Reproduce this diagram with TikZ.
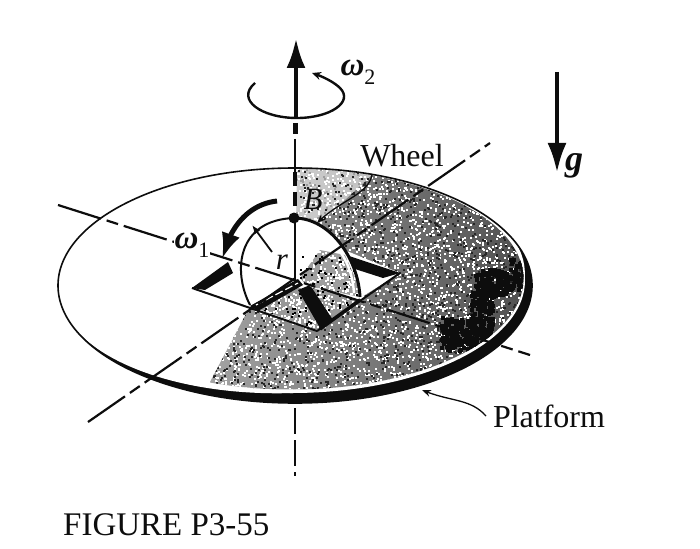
\documentclass[tikz,border=0pt]{standalone}
\usepackage{fontspec}
\setmainfont{Liberation Serif}
\usetikzlibrary{arrows.meta,bending}
\newcommand{\omlabel}[1]{{\fontsize{33}{33}\selectfont\bfseries\itshape ω}{\raisebox{-0.28em}{\fontsize{22}{22}\selectfont #1}}}
\definecolor{ink}{gray}{0.05}
\tikzset{
  lbl/.style={inner sep=0pt,text=ink,font=\fontsize{32}{34}\selectfont},
  axisline/.style={ink,line width=2.2pt,dash pattern=on 45pt off 6pt on 12pt off 6pt},
  bigarrow/.style={ink,line width=4.6pt,-{Latex[length=30pt,width=19pt]}},
  leader/.style={ink,line width=1.3pt},
  strip/.style={fill=ink,draw=none}
}
\pgfmathsetseed{55}
\newcommand{\specks}[7]{% x, y, w, h, n, size, color
  \foreach \i in {1,...,#5}{
    \pgfmathsetmacro{\px}{#1+#3*rnd}
    \pgfmathsetmacro{\py}{#2+#4*rnd}
    \fill[#7] (\px,\py) rectangle +(#6,#6);
  }}
\begin{document}
\begin{tikzpicture}[x=1pt,y=-1pt]
\useasboundingbox (0,0) rectangle (700,548);
\fill[white] (0,0) rectangle (700,548);
% rim and top surface
\fill[ink] (295,285.5) ellipse [x radius=237,y radius=117.5];
\fill[white] (291.5,280.5) ellipse [x radius=233.5,y radius=112.5];
\fill[white,rotate around={2.2:(291.5,280.5)}] (291.5,280.5) ellipse [x radius=233.5,y radius=112.5];
\begin{scope}
  \clip (291.5,279) ellipse [x radius=232,y radius=110.5];
  \shade[left color=black!36,right color=black!70]
    (297,160) -- (296,285) -- (247,312) -- (210,382) -- (225,410) -- (540,410) -- (540,160) -- cycle;
  \clip (297,160) -- (296,285) -- (247,312) -- (210,382) -- (225,410) -- (540,410) -- (540,160) -- cycle;
  \specks{205}{160}{335}{250}{4200}{2}{white}
  \specks{205}{160}{335}{250}{2000}{2}{black!85}
  % lighter patch beside point B
  \fill[white,opacity=.55] (297,165) -- (375,172) -- (318,225) -- (297,225) -- cycle;
  \specks{298}{168}{70}{50}{60}{2}{black!85}
  % darkened blotches
  \specks{474}{268}{32}{26}{150}{4}{ink}
  \specks{470}{290}{22}{32}{110}{4}{ink}
  \specks{440}{316}{50}{34}{260}{4}{ink}
  \specks{505}{258}{22}{30}{70}{4}{ink}
  \draw[ink,line width=7pt] (480,198) .. controls (505,215) and (524,240) .. (527,275);
\end{scope}
\draw[ink,line width=1.6pt] (295,285.5) ellipse [x radius=237,y radius=117.5];
% opening
\fill[white] (192,288) -- (228,262) -- (284,225) -- (400,273) -- (360,298) -- (317,330) -- cycle;
\begin{scope}
  \clip (250,306) -- (298,288) -- (312,288) -- (360,300) -- (317,330) -- cycle;
  \fill[black!40] (250,285) rectangle (365,335);
  \specks{250}{285}{115}{48}{420}{2}{white}
  \specks{250}{285}{115}{48}{120}{2}{black}
\end{scope}
\draw[ink,line width=2pt,line join=round] (192,288) -- (317,331) -- (400,273);
% dark walls of the opening
\fill[strip] (192,288) -- (228,262) -- (233,273) -- (205,290) -- cycle;
\fill[strip] (340,253) -- (400,273) -- (383,278) -- (355,269) -- cycle;
\fill[strip] (298,290) -- (310,285) -- (333,320) -- (320,328) -- cycle;
\draw[ink,line width=3.5pt,line join=round] (320,329) -- (360,300);
% wheel
\fill[white] (250,305) .. controls (232,270) and (238,220) .. (294,218)
  .. controls (330,218) and (358,258) .. (360,297) -- (312,287) -- (298,281) -- cycle;
\begin{scope}
  \clip (250,305) .. controls (232,270) and (238,220) .. (294,218)
  .. controls (330,218) and (358,258) .. (360,297) -- (312,287) -- (298,281) -- cycle;
  \fill[black!38] (300,278) -- (320,250) -- (345,255) -- (365,300) -- (310,290) -- cycle;
  \specks{298}{245}{64}{57}{260}{2}{white}
  \specks{300}{255}{60}{45}{70}{2}{black}
\end{scope}
\draw[ink,line width=2pt] (250,305) .. controls (232,270) and (238,220) .. (294,218);
\draw[ink,line width=3pt] (294,218) .. controls (330,218) and (358,258) .. (360,297);
\draw[white,line width=2.4pt] (341,253) .. controls (350,266) and (353,280) .. (354,293);
% axle
\fill[ink] (250,306) -- (298,279) -- (303,285) -- (258,311) -- cycle;
\draw[white,line width=1.2pt,dash pattern=on 8pt off 3pt] (256,305) -- (298,283);
% axes
\coordinate (aa) at (58,205); \coordinate (ab) at (530,355);
\coordinate (ba) at (88,422); \coordinate (bb) at (490,143);
\draw[axisline] (ba) -- (bb);
\draw[axisline] (aa) -- (ab);
\draw[ink,line width=5pt] (295,123) -- (295,134);
\draw[ink,line width=1.8pt] (295,139) -- (295,172);
\draw[ink,line width=3.6pt] (295,172) -- (295,186);
\draw[ink,line width=3.6pt] (295,192) -- (295,206);
\draw[ink,line width=1.8pt] (295,218) -- (295,283);
\draw[ink,line width=2pt,dash pattern=on 26pt off 6pt] (295,408) -- (295,476);
% point B and radius
\coordinate (wheeltop) at (294,218);
\fill[ink] (wheeltop) circle [radius=5.5];
\coordinate (rim) at (252,225); \coordinate (rend) at (272,252);
\draw[ink,line width=1.8pt,{Latex[length=9pt,width=7pt]}-] (rim) -- (rend);
% spin arrows
\coordinate (w2a) at (296,119); \coordinate (w2b) at (296,38);
\draw[bigarrow] (w2a) -- (w2b);
\coordinate (c1) at (255,83); \coordinate (c2) at (312,73);
\draw[ink,line width=2.4pt,-{Stealth[length=9pt,width=8pt]}] (c1)
  .. controls (235,100) and (262,118) .. (297,118)
  .. controls (330,118) and (354,102) .. (340,88)
  .. controls (334,82) and (322,76) .. (c2);
\coordinate (w1a) at (277,201); \coordinate (w1b) at (222,259);
\draw[ink,line width=5pt,-{Latex[length=26pt,width=19pt,flex=1]}] (w1a) .. controls (250,204) and (230,225) .. (w1b);
\coordinate (ga) at (557,72); \coordinate (gb) at (557,173);
\draw[bigarrow] (ga) -- (gb);
% labels
\node[lbl] (omega2) at (358,72) {\omlabel{2}};
\node[lbl,fill=white,inner sep=1pt] (omega1) at (192,245) {\omlabel{1}};
\node[lbl,font=\fontsize{31}{34}\selectfont\itshape] (bl) at (313,199) {B};
\node[lbl,font=\fontsize{31}{34}\selectfont\itshape] (rl) at (282,262) {r};
\node[lbl,font=\fontsize{36}{36}\selectfont\bfseries\itshape] (gl) at (574,166) {g};
\node[lbl] (wheel) at (402,156) {Wheel};
\node[lbl] (platform) at (549,416) {Platform};
\node[lbl,font=\fontsize{33}{34}\selectfont,anchor=west] (caption) at (63,525) {FIGURE P3-55};
% leaders
\coordinate (wt) at (317,223); \coordinate (wf) at (372,175);
\draw[leader,-{Stealth[length=9pt,width=7pt]}] (wf) .. controls (368,195) and (340,200) .. (wt);
\coordinate (pt) at (422,390); \coordinate (pf) at (486,416);
\draw[leader,-{Stealth[length=9pt,width=7pt]}] (pf) .. controls (470,398) and (450,402) .. (pt);
\end{tikzpicture}
\end{document}
